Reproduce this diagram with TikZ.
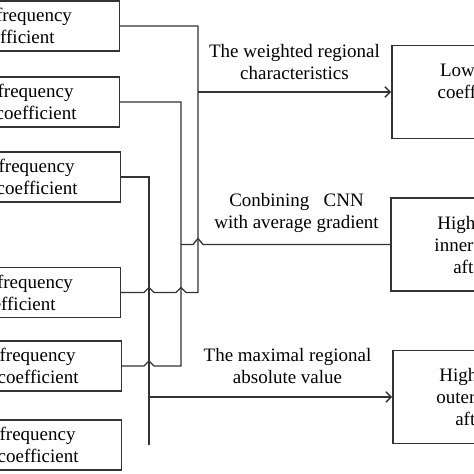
\documentclass[tikz,border=0pt]{standalone}
\usepackage{fontspec}
\setmainfont{Liberation Serif}
\usetikzlibrary{arrows.meta, calc}
\tikzstyle{lbox} = [rectangle, minimum width=4.2cm, minimum height=1cm, text centered, align=center, draw=black!80, line width=0.85pt, anchor=east]
\tikzstyle{rbox} = [rectangle, minimum width=4.24cm, minimum height=1.86cm, text centered, align=center, draw=black!80, line width=0.85pt, anchor=west]
\tikzstyle{line} = [line width=0.75pt, draw=black!80]
\tikzstyle{arrow} = [line width=0.75pt, draw=black!80, -{Straight Barb[length=3pt,width=6pt]}]
\tikzstyle{lab} = [above, inner sep=0pt, yshift=0.24cm, align=center]

\begin{document}
\begin{tikzpicture}[font=\fontsize{10.8}{12.5}\selectfont]
\useasboundingbox (0,0) rectangle (9.48,9.48);
\clip (0,0) rectangle (9.48,9.48);

\node (lowa) [lbox] at (2.40,8.96) {Low frequency\\coefficient};
\node (innera) [lbox] at (2.40,7.44) {High frequency\\inner coefficient};
\node (outera) [lbox] at (2.42,5.94) {High frequency\\outer coefficient};
\node (lowb) [lbox] at (2.42,3.63) {Low frequency\\coefficient};
\node (innerb) [lbox] at (2.44,2.16) {High frequency\\inner coefficient};
\node (outerb) [lbox] at (2.44,0.58) {High frequency\\outer coefficient};

\node (lowf) [rbox] at (7.82,7.64) {Low frequency\\coefficient after\\fusion};
\node (innerf) [rbox] at (7.80,4.59) {High frequency\\inner coefficient\\after fusion};
\node (outerf) [rbox] at (7.84,1.54) {High frequency\\outer coefficient\\after fusion};

% vertical collectors
\coordinate (vl) at (3.96,0);
\coordinate (vi) at (3.62,0);
\coordinate (vo) at (2.98,0);

\draw [line] (lowa.east) -- (lowa.east -| vl) -- (lowb.east -| vl)
  -- ($(lowb.east -| vi)+(0.1,0)$) -- ++(-0.1,0.1) -- ++(-0.1,-0.1)
  -- ($(lowb.east -| vo)+(0.1,0)$) -- ++(-0.1,0.1) -- ++(-0.1,-0.1) -- (lowb.east);
\draw [line] (innera.east) -- (innera.east -| vi) -- (innerb.east -| vi)
  -- ($(innerb.east -| vo)+(0.1,0)$) -- ++(-0.1,0.1) -- ++(-0.1,-0.1) -- (innerb.east);
\draw [line] (outera.east) -- (outera.east -| vo) -- (outerb.east -| vo);

\draw [arrow] (lowf.west -| vl) -- node[lab] {The weighted regional\\characteristics} (lowf.west);
\draw [line] (innerf.west -| vi) -- ($(innerf.west -| vl)+(-0.1,0)$) -- ++(0.1,0.12) -- ++(0.1,-0.12)
  -- node[lab,yshift=-0.02cm] {Conbining~~~CNN\\with average gradient} (innerf.west);
\draw [arrow] (outerf.west -| vo) -- node[lab,pos=0.57,yshift=0.02cm] {The maximal regional\\absolute value} (outerf.west);
\end{tikzpicture}
\end{document}
